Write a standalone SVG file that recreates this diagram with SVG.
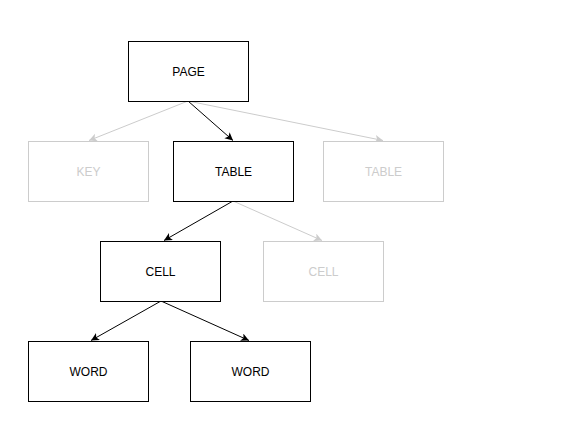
<svg xmlns="http://www.w3.org/2000/svg" width="580" height="433" viewBox="0 0 580 433">
<defs>
<style>
.n rect{fill:#fff;stroke:#000;stroke-width:1}
.n.g rect{stroke:#ccc}
.n text{font-family:"Liberation Sans",Arial,sans-serif;font-size:12px;fill:#000;text-anchor:middle;dominant-baseline:central}
.n.g text{fill:#ccc}
.c line{stroke:#000;stroke-width:1;fill:none}
.c line.g{stroke:#ccc}
</style>
<marker id="ab" markerWidth="10" markerHeight="10" refX="8" refY="4" orient="auto" markerUnits="userSpaceOnUse"><path d="M0,0 L8,4 L0,8 L2,4 Z" fill="#000"/></marker>
<marker id="ag" markerWidth="10" markerHeight="10" refX="8" refY="4" orient="auto" markerUnits="userSpaceOnUse"><path d="M0,0 L8,4 L0,8 L2,4 Z" fill="#ccc"/></marker>
</defs>
<rect width="580" height="433" fill="#fff"/>
<g id="connectors" class="c">
<line class="g" x1="188" y1="101" x2="89" y2="140.5" marker-end="url(#ag)"/>
<line x1="188" y1="101" x2="233" y2="140.5" marker-end="url(#ab)"/>
<line class="g" x1="188" y1="101" x2="383" y2="140.5" marker-end="url(#ag)"/>
<line x1="233" y1="201" x2="164" y2="240.5" marker-end="url(#ab)"/>
<line class="g" x1="233" y1="201" x2="322" y2="240.5" marker-end="url(#ag)"/>
<line x1="161" y1="301" x2="91" y2="340.5" marker-end="url(#ab)"/>
<line x1="161" y1="301" x2="249" y2="340.5" marker-end="url(#ab)"/>
</g>
<g id="page" class="n"><rect x="128.5" y="41.5" width="120" height="60"/><text x="188.5" y="71.5">PAGE</text></g>
<g id="key" class="n g"><rect x="28.5" y="141.5" width="120" height="60"/><text x="88.5" y="171.5">KEY</text></g>
<g id="table1" class="n"><rect x="173.5" y="141.5" width="120" height="60"/><text x="233.5" y="171.5">TABLE</text></g>
<g id="table2" class="n g"><rect x="323.5" y="141.5" width="120" height="60"/><text x="383.5" y="171.5">TABLE</text></g>
<g id="cell1" class="n"><rect x="100.5" y="241.5" width="120" height="60"/><text x="160.5" y="271.5">CELL</text></g>
<g id="cell2" class="n g"><rect x="263.5" y="241.5" width="120" height="60"/><text x="323.5" y="271.5">CELL</text></g>
<g id="word1" class="n"><rect x="28.5" y="341.5" width="120" height="60"/><text x="88.5" y="371.5">WORD</text></g>
<g id="word2" class="n"><rect x="190.5" y="341.5" width="120" height="60"/><text x="250.5" y="371.5">WORD</text></g>
</svg>
